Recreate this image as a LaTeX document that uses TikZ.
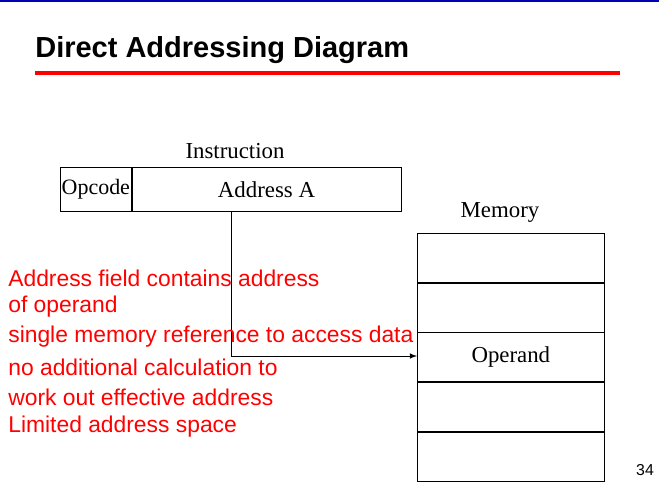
\documentclass[tikz,border=0pt]{standalone}
\usepackage{fontspec}
\setmainfont{Liberation Serif}
\newfontfamily\hand{Liberation Sans}
\usetikzlibrary{positioning}
\tikzset{
  cell/.style={draw, minimum height=0.98cm, minimum width=3.74cm, inner sep=0pt, font=\fontsize{13}{15}\selectfont},
  note/.style={text=red, anchor=west, inner sep=0pt, font=\hand\fontsize{13}{15}\selectfont}
}
\begin{document}
\begin{tikzpicture}[x=0.02cm,y=-0.02cm]
    \useasboundingbox (0,0) rectangle (659,490);
    \draw[blue!70!black, line width=1pt] (0,1)--(659,1);
    % title
    \node[anchor=south west, inner sep=0pt, font=\hand\bfseries\fontsize{16.5}{18}\selectfont] (title) at (35,64) {Direct Addressing Diagram};
    \draw[red, line width=2.5pt] (35,73)--(620,73);

    % instruction
    \node[draw, minimum width=1.42cm, minimum height=0.88cm, inner sep=0pt, anchor=north west, font=\fontsize{12.5}{15}\selectfont] (opcode) at (60,167) {Opcode};
    \node[draw, minimum width=5.38cm, minimum height=0.88cm, inner sep=0pt, anchor=west, font=\fontsize{13}{15}\selectfont] (addr) at (opcode.east) {Address A};
    \node[font=\fontsize{13}{15}\selectfont] (instr) at (235,151) {Instruction};

    % memory
    \node[cell, anchor=north west] (m1) at (417,233) {};
    \node[cell, below=0pt of m1] (m2) {};
    \node[cell, below=0pt of m2] (m3) {Operand};
    \node[cell, below=0pt of m3] (m4) {};
    \node[cell, below=0pt of m4] (m5) {};
    \node[font=\fontsize{13}{15}\selectfont] (mem) at (500,212) {Memory};

    \coordinate (turn) at (231,356);
    \draw[-latex] (231,211) -- (turn) -- (m3.west |- turn);

    % notes
    \node[note] (n1) at (8,278) {Address field contains address};
    \node[note] (n2) at (8,307) {of operand};
    \node[note] (n3) at (8,337) {single memory reference to access data};
    \node[note] (n4) at (8,367) {no additional calculation to};
    \node[note] (n5) at (8,397) {work out effective address};
    \node[note] (n6) at (8,427) {Limited address space};

    \node[font=\hand\fontsize{9}{10}\selectfont] (page) at (645,470) {34};
\end{tikzpicture}
\end{document}
